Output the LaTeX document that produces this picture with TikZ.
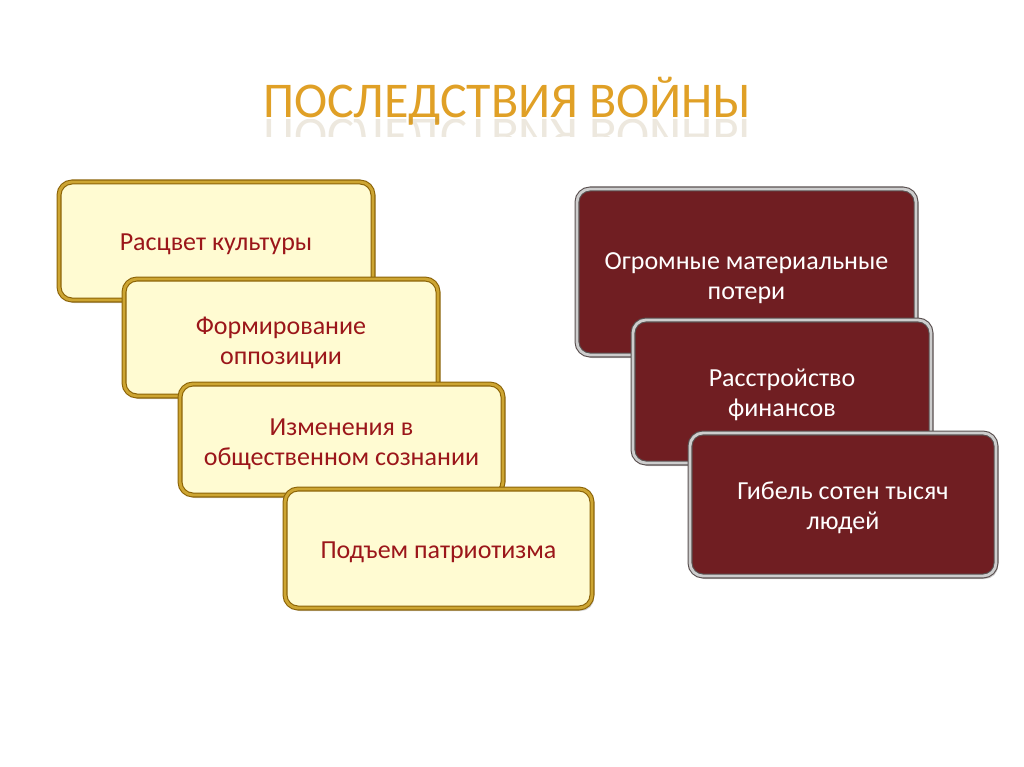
\documentclass[tikz,border=0pt]{standalone}
\usepackage{fontspec}
\setmainfont{Carlito}
\usetikzlibrary{shadows}

\definecolor{rimgold}{RGB}{140,100,8}
\definecolor{lightgold}{RGB}{205,165,50}
\definecolor{boxcream}{RGB}{255,251,210}
\definecolor{textred}{RGB}{155,22,26}
\definecolor{boxwine}{RGB}{112,30,34}
\definecolor{rimgray}{RGB}{205,205,205}
\definecolor{rimdark}{RGB}{90,80,80}
\definecolor{titlegold}{RGB}{224,160,38}

% strut that lowers the first line a little
\newcommand{\lineup}[1][25pt]{\rule{0pt}{#1}}

\begin{document}
\begin{tikzpicture}[x=1pt, y=-1pt,
    gainbox/.style={draw=rimgold, double=lightgold, line width=1.1pt, double distance=2.8pt,
        fill=boxcream, rounded corners=13pt, text=textred, align=center,
        font=\fontsize{26}{30}\selectfont,
        drop shadow={shadow xshift=2pt, shadow yshift=-3pt, opacity=0.35}},
    lossbox/.style={draw=rimdark, double=rimgray, line width=1.1pt, double distance=2.8pt,
        fill=boxwine, rounded corners=13pt, text=white, align=center,
        font=\fontsize{26}{30}\selectfont,
        drop shadow={shadow xshift=2pt, shadow yshift=-3pt, opacity=0.35}}]

    \useasboundingbox[fill=white] (0,0) rectangle (1024,767);

    %% Title
    \node[anchor=base, text=titlegold, font=\fontsize{50}{54}\selectfont] (title) at (507,118) {ПОСЛЕДСТВИЯ ВОЙНЫ};
    % Reflection
    \begin{scope}
        \clip (200,120) rectangle (820,137);
        \node[anchor=base, yscale=-1, text=titlegold!40!gray, opacity=0.2, font=\fontsize{50}{54}\selectfont] (titlemirror) at (507,120) {ПОСЛЕДСТВИЯ ВОЙНЫ};
    \end{scope}

    %% Gains (left)
    \node[gainbox, minimum width=314, minimum height=118] (culture) at (216,241) {\lineup[24pt]Расцвет культуры};
    \node[gainbox, minimum width=314, minimum height=117] (opposition) at (281,337.5) {\lineup[29pt]Формирование\\оппозиции};
    \node[gainbox, minimum width=323, minimum height=111] (mind) at (341.5,439.5) {\lineup[26pt]Изменения в\\общественном сознании};
    \node[gainbox, minimum width=307, minimum height=119] (patriot) at (438.5,548.5) {\lineup[24pt]Подъем патриотизма};

    %% Losses (right)
    \node[lossbox, minimum width=339, minimum height=166] (material) at (746.5,272) {\lineup[30pt]Огромные материальные\\потери};
    \node[lossbox, minimum width=298, minimum height=143] (finance) at (782,391.5) {\lineup[25pt]Расстройство\\финансов};
    \node[lossbox, minimum width=306, minimum height=143] (people) at (843,504.5) {\lineup[25pt]Гибель сотен тысяч\\людей};

\end{tikzpicture}
\end{document}
